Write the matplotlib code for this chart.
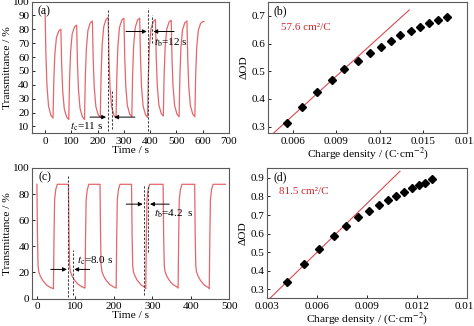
import matplotlib
matplotlib.use("Agg")
import matplotlib.pyplot as plt

plt.rcParams.update({
    "font.family": ["Liberation Serif", "DejaVu Serif"],
    "mathtext.fontset": "stix",
    "font.size": 8,
    "axes.linewidth": 0.8,
    "axes.edgecolor": "#5A5A5A",
    "xtick.direction": "in",
    "ytick.direction": "in",
    "xtick.major.size": 2.5,
    "ytick.major.size": 2.5,
    "xtick.major.width": 0.6,
    "ytick.major.width": 0.6,
    "xtick.major.pad": 2.5,
    "ytick.major.pad": 2,
})

CURVE, FIT, RED, DASH = "#E4676B", "#DB4A4F", "#D2282E", "#3A3A3A"

# (a) transmittance switching, 30 s colouring / 30 s bleaching steps
time_a = [0, 3, 7, 13, 22, 30, 33, 37, 43, 52,
          60, 63, 67, 73, 82, 90, 93, 97, 103, 112,
          120, 123, 127, 133, 142, 150, 153, 157, 163, 172,
          180, 183, 187, 193, 202, 210, 213, 217, 223, 232,
          240, 243, 247, 253, 262, 270, 273, 277, 283, 292,
          300, 303, 307, 313, 322, 330, 333, 337, 343, 352,
          360, 363, 367, 373, 382, 390, 393, 397, 403, 412,
          420, 423, 427, 433, 442, 450, 453, 457, 463, 472,
          480, 483, 487, 493, 502, 510, 513, 517, 523, 532,
          540, 543, 547, 553, 562, 570, 573, 577, 583, 592,
          600, 605]
trans_a = [91, 61.5, 39.3, 24.6, 18.0, 16.0, 42.9, 62.1, 74.0, 78.8,
           80, 54.5, 35.2, 22.5, 16.7, 15.0, 43.6, 64.0, 76.6, 81.8,
           83, 56.3, 36.1, 22.8, 16.8, 15.0, 44.8, 66.1, 79.3, 84.7,
           86, 58.7, 38.1, 24.5, 18.3, 16.5, 46.7, 68.3, 81.7, 87.2,
           88.5, 60.0, 38.5, 24.3, 17.9, 16.0, 46.2, 67.8, 81.2, 86.7,
           88, 60.1, 39.1, 25.2, 18.8, 17.0, 46.8, 68.1, 81.3, 86.7,
           88, 59.9, 38.7, 24.7, 18.4, 16.5, 46.1, 67.3, 80.4, 85.7,
           87, 59.7, 39.1, 25.5, 19.3, 17.5, 46.5, 67.2, 80.0, 85.3,
           86.5, 59.2, 38.6, 25.0, 18.8, 17.0, 46.0, 66.7, 79.5, 84.8,
           86, 58.9, 38.5, 24.9, 18.8, 17.0, 45.8, 66.3, 79.1, 84.3,
           85.5, 85.6]

# (c) transmittance switching of the second film
time_c = [0, 1.5, 3, 5, 9, 15, 25, 35, 43, 44.5, 46, 49, 53,
          82, 83.5, 85, 87, 91, 97, 107, 117, 125, 126.5, 128, 131, 135,
          164, 165.5, 167, 169, 173, 179, 189, 199, 206, 207.5, 209, 212, 216,
          246, 247.5, 249, 251, 255, 261, 271, 281, 283, 284.5, 286, 289, 293,
          328, 329.5, 331, 333, 337, 343, 353, 363, 367, 368.5, 370, 373, 377,
          410, 411.5, 413, 415, 419, 425, 435, 445, 448, 449.5, 451, 454, 458,
          490]
trans_c = [87.5, 47.5, 25.1, 20.3, 17.1, 13.9, 10.3, 8.5, 7.5, 47.5, 75.5, 83.5, 87.5,
           87.5, 47.8, 25.5, 20.7, 17.5, 14.4, 10.8, 9.0, 8.0, 47.8, 75.6, 83.5, 87.5,
           87.5, 47.8, 25.5, 20.7, 17.5, 14.4, 10.8, 9.0, 8.0, 47.8, 75.6, 83.5, 87.5,
           87.5, 47.5, 25.1, 20.3, 17.1, 13.9, 10.3, 8.5, 7.5, 47.5, 75.5, 83.5, 87.5,
           87.5, 47.8, 25.5, 20.7, 17.5, 14.4, 10.8, 9.0, 8.0, 47.8, 75.6, 83.5, 87.5,
           87.5, 47.5, 25.1, 20.3, 17.1, 13.9, 10.3, 8.5, 7.5, 47.5, 75.5, 83.5, 87.5,
           87.5]

# (b), (d) optical density change vs injected charge
charge_b = [0.00558, 0.00667, 0.00769, 0.00869, 0.00956, 0.01047, 0.01130, 0.01205,
            0.01274, 0.01342, 0.01413, 0.01476, 0.01540, 0.01601, 0.01660]
dod_b = [0.312, 0.372, 0.425, 0.469, 0.507, 0.537, 0.567, 0.589,
         0.611, 0.630, 0.645, 0.660, 0.673, 0.684, 0.696]
charge_d = [0.00418, 0.00522, 0.00614, 0.00702, 0.00776, 0.00845, 0.00912, 0.00971,
            0.01025, 0.01076, 0.01124, 0.01169, 0.01210, 0.01249, 0.01288]
dod_d = [0.339, 0.437, 0.519, 0.587, 0.642, 0.687, 0.724, 0.754,
         0.779, 0.803, 0.825, 0.843, 0.859, 0.875, 0.893]

# linear part of each curve: slope, intercept, x-extent
fit_b = (47.6, 0.054, 0.0043, 0.01403)
fit_d = (87.7, -0.027, 0.0030, 0.01098)
ce_b, ce_d = "57.6 cm²/C", "81.5 cm²/C"


def vline(ax, x, y0, y1):
    ax.plot([x, x], [y0, y1], ls=(0, (2.2, 1.6)), lw=0.75, color=DASH, zorder=4)


def arrow(ax, x0, x1, y):
    ax.annotate("", xy=(x1, y), xytext=(x0, y),
                arrowprops=dict(arrowstyle="-|>", color="k", lw=0.7,
                                mutation_scale=6, shrinkA=0, shrinkB=0))


def panel_tag(ax, tag):
    ax.text(0.03, 0.975, tag, transform=ax.transAxes, ha="left", va="top", fontsize=8.5)


fig = plt.figure(figsize=(4.74, 3.26), dpi=100)
ax_a = fig.add_axes([0.0675, 0.591, 0.4156, 0.4043])
ax_b = fig.add_axes([0.5654, 0.591, 0.4198, 0.4043])
ax_c = fig.add_axes([0.0681, 0.0843, 0.4156, 0.4004])
ax_d = fig.add_axes([0.5633, 0.0858, 0.4219, 0.3988])

LABEL = dict(fontsize=8.2, labelpad=0)

# --- (a)
ax_a.plot(time_a, trans_a, color=CURVE, lw=0.9)
ax_a.set_xlim(-50, 700)
ax_a.set_ylim(5, 100)
ax_a.set_xticks(range(0, 701, 100))
ax_a.set_yticks(range(10, 101, 10))
ax_a.set_xlabel("Time / s", **LABEL)
ax_a.set_ylabel("Transmittance / %", fontsize=8.2, labelpad=0.5)
panel_tag(ax_a, "(a)")
vline(ax_a, 241, 6.4, 94)
vline(ax_a, 256, 8.4, 36)
arrow(ax_a, 171, 232, 16.7)
arrow(ax_a, 342, 263, 16.7)
ax_a.text(158, 9.8, r"$t_\mathrm{c}$=11 s", ha="center", va="center", fontsize=8)
vline(ax_a, 390, 6.4, 95)
vline(ax_a, 406, 70, 90)
arrow(ax_a, 308, 387, 78.4)
arrow(ax_a, 491, 412, 78.4)
ax_a.text(478, 70.5, r"$t_\mathrm{b}$=12 s", ha="center", va="center", fontsize=8)

# --- (c)
ax_c.plot(time_c, trans_c, color=CURVE, lw=0.9)
ax_c.set_xlim(-12, 500)
ax_c.set_ylim(0, 100)
ax_c.set_xticks(range(0, 501, 100))
ax_c.set_yticks(range(0, 101, 20))
ax_c.set_xlabel("Time / s", **LABEL)
ax_c.set_ylabel("Transmittance / %", fontsize=8.2, labelpad=0.5)
panel_tag(ax_c, "(c)")
vline(ax_c, 82, 1.3, 93.6)
vline(ax_c, 92.6, 2.6, 37)
arrow(ax_c, 36, 78, 22.3)
arrow(ax_c, 137, 97, 22.3)
ax_c.text(151, 28.7, r"$t_\mathrm{c}$=8.0 s", ha="center", va="center", fontsize=8)
vline(ax_c, 278.5, 2.6, 87)
vline(ax_c, 288, 36, 86)
arrow(ax_c, 232, 275, 72.3)
arrow(ax_c, 344, 294, 72.3)
ax_c.text(355, 64.6, r"$t_\mathrm{b}$=4.2  s", ha="center", va="center", fontsize=8)

# --- (b), (d)
for ax, q, od, fit, ce, tag, xlim, ylim, xt, yt, ce_xy in [
    (ax_b, charge_b, dod_b, fit_b, ce_b, "(b)", (0.0043, 0.018), (0.276, 0.752),
     [0.006, 0.009, 0.012, 0.015, 0.018], [0.3, 0.4, 0.5, 0.6, 0.7], (0.00522, 0.657)),
    (ax_d, charge_d, dod_d, fit_d, ce_d, "(d)", (0.003, 0.015), (0.253, 0.953),
     [0.003, 0.006, 0.009, 0.012, 0.015], [0.3, 0.4, 0.5, 0.6, 0.7, 0.8, 0.9], (0.00369, 0.829)),
]:
    k, b0, x0, x1 = fit
    ax.plot([x0, x1], [k * x0 + b0, k * x1 + b0], color=FIT, lw=0.8, zorder=2)
    ax.plot(q, od, ls="none", marker="D", ms=3.7, color="black", zorder=3)
    ax.set_xlim(*xlim)
    ax.set_ylim(*ylim)
    ax.set_xticks(xt)
    ax.set_xticklabels([f"{v:.3f}" for v in xt])
    ax.set_yticks(yt)
    ax.set_yticklabels([f"{v:.1f}" for v in yt])
    ax.set_xlabel("Charge density / (C·cm$^{-2}$)", **LABEL)
    ax.set_ylabel("ΔOD", fontsize=8.2, labelpad=2)
    ax.text(*ce_xy, ce, color=RED, ha="left", va="center", fontsize=8)
    panel_tag(ax, tag)

fig.savefig("out.png", dpi=100)
